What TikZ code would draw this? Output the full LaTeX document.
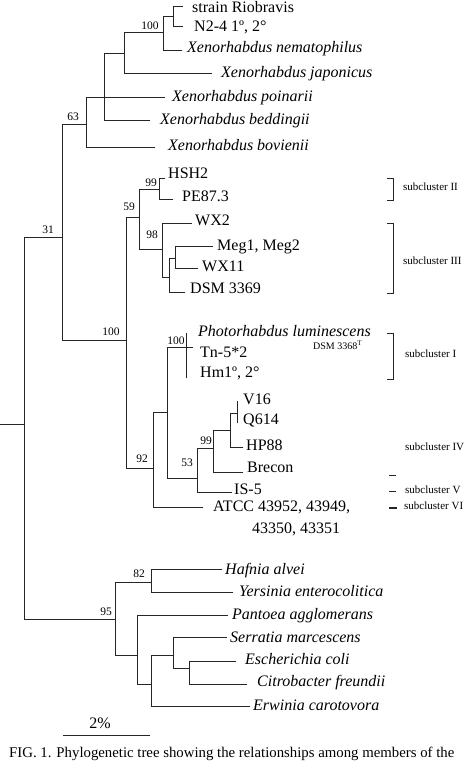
\documentclass[tikz,border=0pt]{standalone}
\usepackage{fontspec}
\setmainfont{Liberation Serif}
\begin{document}
\begin{tikzpicture}[x=1pt,y=-1pt,
  br/.style={line width=0.8pt, draw=black!85, line cap=rect},
  lab/.style={anchor=west, inner sep=0pt, font=\fontsize{16}{18}\selectfont, text height=11pt, text depth=3.5pt},
  sp/.style={lab, font=\fontsize{16}{18}\selectfont\itshape},
  bs/.style={anchor=center, inner sep=0pt, font=\fontsize{11.5}{13}\selectfont},
  sc/.style={anchor=west, inner sep=0pt, font=\fontsize{11}{13}\selectfont, text height=7.5pt, text depth=2pt},
  brk/.style={line width=0.8pt, draw=black!85}]
\fill[white] (0,0) rectangle (474,761);
\useasboundingbox (0,0) rectangle (474,761);

% horizontal branches
\foreach \xa/\xb/\yy in {0/24/424, 24/62/237, 62/86/124, 86/165/97, 104/150/120, 86/155/147,
  104/124/53, 124/163/32, 124/212/73, 163/173/16, 173/183/6, 173/183/26, 163/182/50,
  62/126/340, 126/139/217, 139/159/189, 159/165/178, 159/173/199, 139/162/249, 162/192/223,
  162/169/277, 169/175/258, 175/213/246, 175/198/268, 169/185/292,
  126/153/468, 153/203/507, 153/167/412, 167/193/347, 167/197/478, 197/232/492, 197/213/448,
  213/243/472, 213/230/430, 230/243/447, 230/237/413,
  24/115/619, 115/151/582, 151/222/569, 151/233/592, 115/137/655, 137/228/615, 137/151/684,
  151/173/655, 173/227/637, 173/189/668, 189/236/661, 189/247/684, 151/250/706}
  \draw[br] (\xa,\yy) -- (\xb,\yy);
% vertical lines
\foreach \xx/\ya/\yb in {24/237/619, 62/124/340, 86/97/147, 104/53/120, 124/32/73, 163/16/50,
  173/6/26, 126/217/468, 139/189/249, 159/178/199, 162/223/277, 169/258/292, 175/246/268,
  153/412/507, 167/347/478, 186/333/378, 197/448/492, 213/430/472, 230/413/447, 237/401/423,
  115/582/655, 151/569/592, 137/615/684, 151/655/706, 173/637/668, 189/661/684}
  \draw[br] (\xx,\ya) -- (\xx,\yb);

% bootstrap values
\node[bs] (b100a) at (150,26) {100};
\node[bs] (b63) at (73,117) {63};
\node[bs] (b31) at (48,230) {31};
\node[bs] (b99a) at (151,183) {99};
\node[bs] (b59) at (129,207) {59};
\node[bs] (b98) at (152,235) {98};
\node[bs] (b100b) at (111,332) {100};
\node[bs] (b100c) at (176,341) {100};
\node[bs] (b99b) at (206,441) {99};
\node[bs] (b53) at (187,463) {53};
\node[bs] (b92) at (142,459) {92};
\node[bs] (b82) at (139,574) {82};
\node[bs] (b95) at (106,612) {95};

% leaf labels
\node[lab] (riob) at (192,9) {strain Riobravis};
\node[lab] (n24) at (194,28) {N2-4 1º, 2°};
\node[sp] (nema) at (187,49) {Xenorhabdus nematophilus};
\node[sp] (japo) at (221,74) {Xenorhabdus japonicus};
\node[sp] (poin) at (172,98) {Xenorhabdus poinarii};
\node[sp] (bedd) at (160,121) {Xenorhabdus beddingii};
\node[sp] (bovi) at (168,147) {Xenorhabdus bovienii};
\node[lab] (hsh2) at (168,175) {HSH2};
\node[lab] (pe87) at (182,198) {PE87.3};
\node[lab] (wx2) at (195,222) {WX2};
\node[lab] (meg) at (217,247) {Meg1, Meg2};
\node[lab] (wx11) at (202,268) {WX11};
\node[lab] (dsm69) at (190,290) {DSM 3369};
\node[sp] (phot) at (198,333) {Photorhabdus luminescens};
\node[anchor=west, inner sep=0pt, font=\fontsize{10}{12}\selectfont] (dsm68) at (313,345) {DSM 3368\textsuperscript{T}};
\node[lab] (tn5) at (200,354) {Tn-5*2};
\node[lab] (hm1) at (200,374) {Hm1º, 2°};
\node[lab] (v16) at (243,401) {V16};
\node[lab] (q614) at (243,421) {Q614};
\node[lab] (hp88) at (246,447) {HP88};
\node[lab] (brec) at (247,469) {Brecon};
\node[lab] (is5) at (234,491) {IS-5};
\node[lab] (atcc) at (213,508) {ATCC 43952, 43949,};
\node[lab] (atcc2) at (252,530) {43350, 43351};
\node[sp] (hafn) at (225,571) {Hafnia alvei};
\node[sp] (yers) at (239,593) {Yersinia enterocolitica};
\node[sp] (pant) at (232,616) {Pantoea agglomerans};
\node[sp] (serr) at (230,639) {Serratia marcescens};
\node[sp] (esch) at (245,661) {Escherichia coli};
\node[sp] (citr) at (257,683) {Citrobacter freundii};
\node[sp] (erwi) at (253,707) {Erwinia carotovora};

% subcluster brackets and labels
\draw[brk] (387,178) -- (393,178) -- (393,200) -- (387,200);
\node[sc] (s2) at (403,188) {subcluster II};
\draw[brk] (387,223) -- (393,223) -- (393,293) -- (387,293);
\node[sc] (s3) at (403,262) {subcluster III};
\draw[brk] (387,333) -- (393,333) -- (393,379) -- (387,379);
\node[sc] (s1) at (405,355) {subcluster I};
\node[sc] (s4) at (405,448) {subcluster IV};
\draw[brk] (389,475) -- (396,475);
\draw[brk] (389,491) -- (396,491);
\node[sc] (s5) at (405,491) {subcluster V};
\draw[brk, line width=1.1pt] (389,508) -- (397,508);
\node[sc] (s6) at (404,507) {subcluster VI};

% scale bar
\coordinate (sba) at (63,735);
\coordinate (sbb) at (150,735);
\draw[br] (sba) -- (sbb);
\node[anchor=center, inner sep=0pt, font=\fontsize{16}{18}\selectfont] (pct) at (100,723) {2\%};

% caption
\node[anchor=base west, inner sep=0pt, font=\fontsize{14.8}{16}\selectfont] (cap) at (9,757) {FIG. 1. Phylogenetic tree showing the relationships among members of the};
\end{tikzpicture}
\end{document}
